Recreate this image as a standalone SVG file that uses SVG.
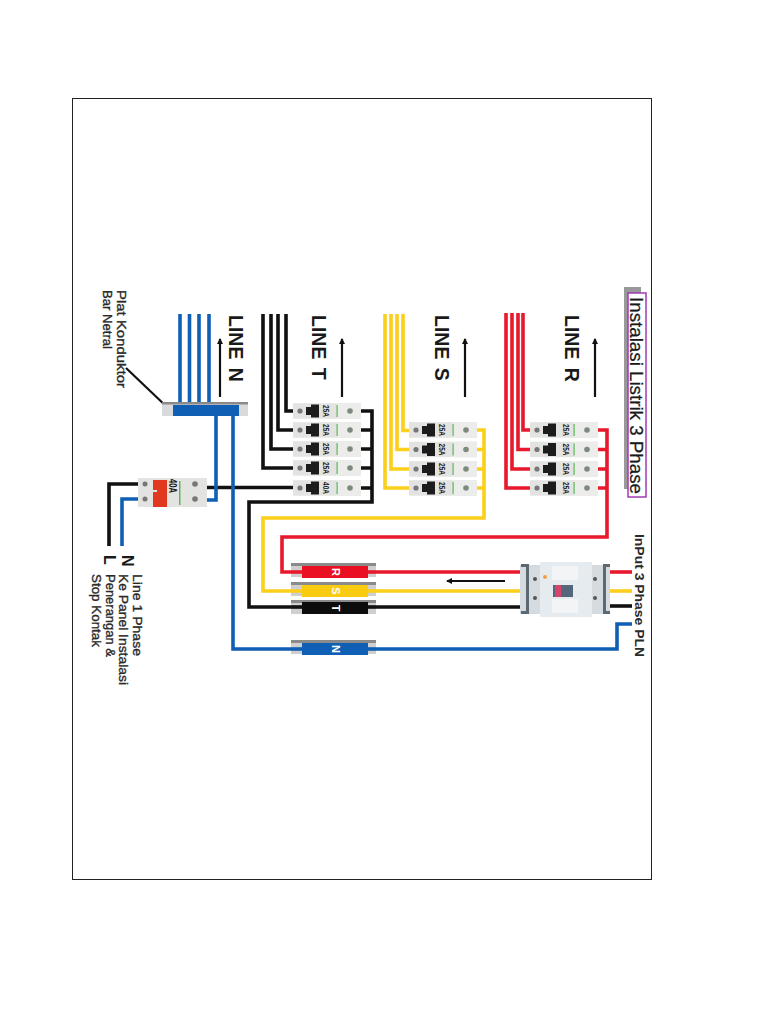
<svg xmlns="http://www.w3.org/2000/svg" xmlns:xlink="http://www.w3.org/1999/xlink" width="768" height="1024" viewBox="0 0 768 1024">
<style>
text{font-family:"Liberation Sans",Arial,sans-serif;fill:#1a1a1a}
.w{fill:none;stroke-width:3.6;stroke-linejoin:miter}
.r{stroke:#e8192c}.y{stroke:#fbcf1a}.k{stroke:#111}.b{stroke:#0f5fb5}
.line{font-size:19.5px;font-weight:700;word-spacing:3px}
.amp{font-size:9.5px;font-weight:700}
.lbl{font-size:13px;font-weight:700;fill:#2a2a2a}
.lbl2{font-size:13.5px;fill:#2a2a2a;stroke:#2a2a2a;stroke-width:.35}
.big{font-size:16px;font-weight:700}
.bar{font-size:11px;font-weight:700;fill:#fff;text-anchor:middle}
.arrow{stroke:#111;stroke-width:2.2;fill:none;marker-end:url(#ah)}
</style>
<defs>
<marker id="ah" markerWidth="7" markerHeight="7" refX="5" refY="3" orient="auto" markerUnits="userSpaceOnUse"><path d="M0 0L6 3L0 6Z" fill="#111"/></marker>
<g id="mcb">
<rect x="0" y="-7.800" width="68" height="15.500" fill="#e3e4e2"/>
<rect x="44" y="-7.800" width="24" height="15.500" fill="#ececea"/>
<circle cx="7" cy="0" r="2.600" fill="#777"/>
<path d="M13 -4H18V-6.500H26V6.500H18V4H13Z" fill="#1c1c1c"/>
<rect x="43.500" y="-6" width="1.200" height="12" fill="#5cb85c"/>
<circle cx="57" cy="0" r="2.800" fill="#7d8a7d"/>
</g>
<g id="terminal">
<rect x="0" y="0" width="85" height="3" fill="#8a8a8a"/>
<rect x="0" y="3" width="11" height="11" fill="#cfcfcf"/>
<rect x="77" y="3" width="8" height="11" fill="#cfcfcf"/>
</g>
</defs>
<rect width="768" height="1024" fill="#fff"/>
<rect x="72.500" y="98.500" width="579" height="781" fill="#fff" stroke="#222" stroke-width="1"/>

<g id="connectors">
<path class="w r" d="M506 313V488H530M512 313V469H530M518 313V449.500H530M523 313V430H530"/>
<path class="w r" d="M598 430H607V537H282V572H525M598 449.500H607M598 469H607M598 488H607"/>
<path class="w r" d="M605 572H632"/>
<path class="w y" d="M385 314V488H409M391 314V469H409M397 314V449.500H409M403 314V430.500H409"/>
<path class="w y" d="M477 430H484V518H263V591H525M477 449.500H484M477 469H484M477 488H484"/>
<path class="w y" d="M605 591H632"/>
<path class="w k" d="M286 314V411H293M278 314V430H293M271 314V449H293M263 314V468H293M207 487.500H293"/>
<path class="w k" d="M360 411H372V502H249V607H525M360 430H372M360 449H372M360 468H372M360 488H372"/>
<path class="w k" d="M605 606H632"/>
<path class="w k" d="M138 484H109V546"/>
<path class="w b" d="M180 314V405M189.500 314V405M199 314V405M209 314V405"/>
<path class="w b" d="M216 414V500H207M138 499H122V546"/>
<path class="w b" d="M233 414V649H617V624H632"/>
<path class="arrow" d="M595 397V339"/>
<path class="arrow" d="M465 397V339"/>
<path class="arrow" d="M342 397V339"/>
<path class="arrow" d="M220 397V339"/>
<path class="arrow" d="M505 581H447"/>
<path class="arrow" d="M126 368L168 408"/>
</g>

<g id="title">
<rect x="624" y="287" width="17" height="202" fill="#999"/>
<rect x="628" y="293" width="18" height="204" fill="#fff" stroke="#a23ab5" stroke-width="1.500"/>
<text transform="translate(630,297) rotate(90)" font-size="19" stroke="#1a1a1a" stroke-width=".25" textLength="197" lengthAdjust="spacingAndGlyphs">Instalasi Listrik 3 Phase</text>
</g>
<g id="line-r-label"><text class="line" transform="translate(565,315) rotate(90)">LINE R</text></g>
<g id="line-s-label"><text class="line" transform="translate(435,315) rotate(90)">LINE S</text></g>
<g id="line-t-label"><text class="line" transform="translate(312,315) rotate(90)">LINE T</text></g>
<g id="line-n-label"><text class="line" transform="translate(229,315) rotate(90)">LINE N</text></g>

<g id="breakers-r">
<use xlink:href="#mcb" x="530" y="430"/><use xlink:href="#mcb" x="530" y="449.500"/><use xlink:href="#mcb" x="530" y="469"/><use xlink:href="#mcb" x="530" y="488"/>
<text class="amp" transform="translate(563,424) rotate(90)" textLength="12" lengthAdjust="spacingAndGlyphs">25A</text>
<text class="amp" transform="translate(563,443.500) rotate(90)" textLength="12" lengthAdjust="spacingAndGlyphs">25A</text>
<text class="amp" transform="translate(563,463) rotate(90)" textLength="12" lengthAdjust="spacingAndGlyphs">25A</text>
<text class="amp" transform="translate(563,482) rotate(90)" textLength="12" lengthAdjust="spacingAndGlyphs">25A</text>
</g>
<g id="breakers-s">
<use xlink:href="#mcb" x="409" y="430"/><use xlink:href="#mcb" x="409" y="449.500"/><use xlink:href="#mcb" x="409" y="469"/><use xlink:href="#mcb" x="409" y="488"/>
<text class="amp" transform="translate(439,424) rotate(90)" textLength="12" lengthAdjust="spacingAndGlyphs">25A</text>
<text class="amp" transform="translate(439,443.500) rotate(90)" textLength="12" lengthAdjust="spacingAndGlyphs">25A</text>
<text class="amp" transform="translate(439,463) rotate(90)" textLength="12" lengthAdjust="spacingAndGlyphs">25A</text>
<text class="amp" transform="translate(439,482) rotate(90)" textLength="12" lengthAdjust="spacingAndGlyphs">25A</text>
</g>
<g id="breakers-t">
<use xlink:href="#mcb" x="293" y="411"/><use xlink:href="#mcb" x="293" y="430"/><use xlink:href="#mcb" x="293" y="449"/><use xlink:href="#mcb" x="293" y="468"/><use xlink:href="#mcb" x="293" y="488"/>
<text class="amp" transform="translate(323,405) rotate(90)" textLength="12" lengthAdjust="spacingAndGlyphs">25A</text>
<text class="amp" transform="translate(323,424) rotate(90)" textLength="12" lengthAdjust="spacingAndGlyphs">25A</text>
<text class="amp" transform="translate(323,443) rotate(90)" textLength="12" lengthAdjust="spacingAndGlyphs">25A</text>
<text class="amp" transform="translate(323,462) rotate(90)" textLength="12" lengthAdjust="spacingAndGlyphs">25A</text>
<text class="amp" transform="translate(323,482) rotate(90)" textLength="12" lengthAdjust="spacingAndGlyphs">40A</text>
</g>

<g id="breaker-40a">
<rect x="138" y="478" width="69" height="29" fill="#e3e4e2"/>
<circle cx="145" cy="484" r="2.500" fill="#777"/><circle cx="145" cy="499" r="2.500" fill="#777"/>
<circle cx="195" cy="484" r="2.800" fill="#777"/><circle cx="195" cy="499" r="2.800" fill="#777"/>
<path d="M153 480H167V507H153V492H157V490H153Z" fill="#e0391f"/>
<rect x="179" y="481" width="1.500" height="24" fill="#5cb85c"/>
<text class="amp" transform="translate(169,479) rotate(90)" style="font-size:10px" textLength="14" lengthAdjust="spacingAndGlyphs">40A</text>
</g>

<g id="neutral-bar">
<rect x="162" y="402" width="86" height="14" fill="#d9dadc"/>
<rect x="162" y="402" width="86" height="2.500" fill="#8a8a8a"/>
<rect x="173" y="405" width="66" height="11" fill="#0f5fb5"/>
</g>

<g id="terminal-r"><use xlink:href="#terminal" x="291" y="563"/><rect x="291" y="570.200" width="85" height="3.600" fill="#e8192c"/><rect x="302" y="566" width="66" height="12" fill="#ea0f22"/><text class="bar" transform="translate(336,572) rotate(90)" y="4">R</text></g>
<g id="terminal-s"><use xlink:href="#terminal" x="291" y="582"/><rect x="291" y="589.200" width="85" height="3.600" fill="#fbcf1a"/><rect x="302" y="585" width="66" height="12" fill="#f9cc12"/><text class="bar" transform="translate(336,591) rotate(90)" y="4">S</text></g>
<g id="terminal-t"><use xlink:href="#terminal" x="291" y="600"/><rect x="291" y="605.200" width="85" height="3.600" fill="#111"/><rect x="302" y="602" width="66" height="12" fill="#0c0c0c"/><text class="bar" transform="translate(336,608) rotate(90)" y="4">T</text></g>
<g id="terminal-n"><use xlink:href="#terminal" x="291" y="640"/><rect x="291" y="647.200" width="85" height="3.600" fill="#0f5fb5"/><rect x="302" y="643" width="66" height="12" fill="#0f5fb5"/><text class="bar" transform="translate(336,649) rotate(90)" y="4">N</text></g>

<g id="mccb">
<rect x="520" y="565" width="90" height="49" fill="#d6dbdf"/>
<rect x="540" y="562" width="52" height="55" fill="#e6ebef"/>
<path d="M521 564H529V614H521V611H526V567H521Z" fill="#5d6972"/>
<path d="M610 564H603V614H610V611H606V567H610Z" fill="#5d6972"/>
<rect x="553" y="585" width="20" height="12" fill="#55657a"/>
<rect x="555" y="585" width="6" height="12" fill="#d8446a"/>
<circle cx="545" cy="577" r="2" fill="#f0a040"/>
<circle cx="535" cy="579" r="2" fill="#555"/><circle cx="535" cy="598" r="2" fill="#555"/>
<circle cx="595" cy="579" r="2" fill="#555"/><circle cx="595" cy="598" r="2" fill="#555"/>
<rect x="552" y="566" width="26" height="14" fill="#f3f4f5"/>
<rect x="552" y="599" width="26" height="14" fill="#f3f4f5"/>
</g>

<g id="labels">
<text class="lbl" transform="translate(635,534) rotate(90)" textLength="123" lengthAdjust="spacingAndGlyphs">InPut 3 Phase PLN</text>
<text class="lbl2" transform="translate(117,290) rotate(90)" textLength="98" lengthAdjust="spacingAndGlyphs">Plat Konduktor</text>
<text class="lbl2" transform="translate(103,290) rotate(90)" textLength="59" lengthAdjust="spacingAndGlyphs">Bar Netral</text>
<text class="big" transform="translate(122,555) rotate(90)">N</text>
<text class="big" transform="translate(104,555) rotate(90)">L</text>
<text class="lbl2" transform="translate(133,574) rotate(90)" textLength="82" lengthAdjust="spacingAndGlyphs">Line 1 Phase</text>
<text class="lbl2" transform="translate(119,574) rotate(90)" textLength="111" lengthAdjust="spacingAndGlyphs">Ke Panel Instalasi</text>
<text class="lbl2" transform="translate(106,574) rotate(90)" textLength="83" lengthAdjust="spacingAndGlyphs">Penerangan &amp;</text>
<text class="lbl2" transform="translate(92,574) rotate(90)" textLength="73" lengthAdjust="spacingAndGlyphs">Stop Kontak</text>
</g>
</svg>
